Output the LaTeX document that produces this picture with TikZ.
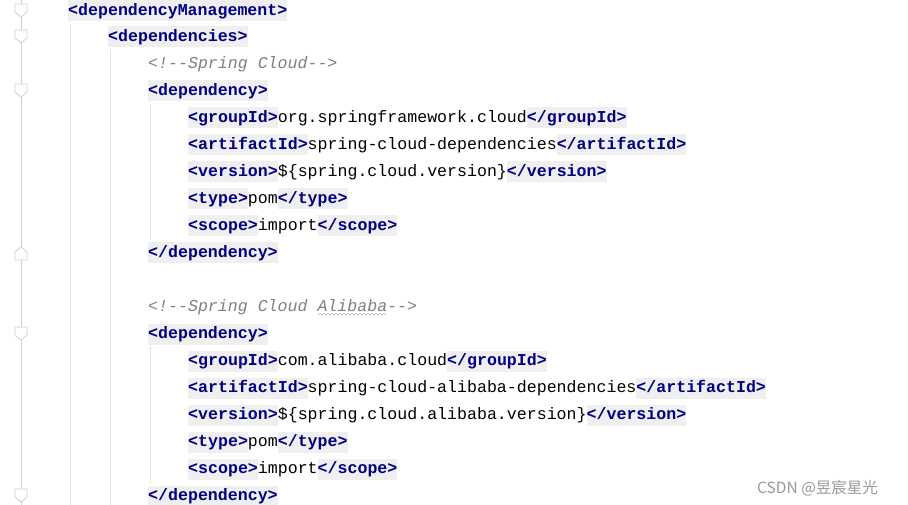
\documentclass[tikz,border=0pt]{standalone}
\usepackage{fontspec}
\setmonofont{Liberation Mono}
\newfontfamily\cjk{Noto Sans CJK SC}
\definecolor{tagc}{HTML}{000080}
\definecolor{tagbg}{HTML}{EFEFEF}
\definecolor{cmt}{HTML}{808080}
\definecolor{gut}{HTML}{D0D0D0}
\newcommand\tg[1]{{\setlength\fboxsep{0pt}\colorbox{tagbg}{\rule[-6pt]{0pt}{21pt}\bfseries\color{tagc}#1}}}
\newcommand\cm[1]{{\color{cmt}\itshape #1}}
\begin{document}
\begin{tikzpicture}[x=1pt,y=-1pt,
  code/.style={anchor=west,inner sep=0pt,font=\ttfamily\fontsize{16.6}{20}\selectfont},
  fold/.style={draw=gut,fill=white,line width=0.8pt}]
\useasboundingbox (0,0) rectangle (908,505);
\fill[white] (0,0) rectangle (908,505);
% gutter
\draw[gut,line width=0.8pt] (21,0) -- (21,505);
\foreach \y in {11,37,91,334,496}{
  \draw[fold] (15,\y-7) -- (27,\y-7) -- (27,\y+1) -- (21,\y+6) -- (15,\y+1) -- cycle;}
\foreach \y in {253}{
  \draw[fold] (15,\y+7) -- (27,\y+7) -- (27,\y-1) -- (21,\y-6) -- (15,\y-1) -- cycle;}
% indent guides
\draw[gut!60,line width=0.6pt] (70,24) -- (70,505);
\draw[gut!60,line width=0.6pt] (110,50) -- (110,505);
\draw[gut!60,line width=0.6pt] (150,104) -- (150,240);
\draw[gut!60,line width=0.6pt] (150,347) -- (150,483);
% code
\node[code] (l1) at (68,11) {\tg{<dependencyManagement>}};
\node[code] (l2) at (108,37) {\tg{<dependencies>}};
\node[code] (l3) at (148,64) {\cm{<!--Spring Cloud-->}};
\node[code] (l4) at (148,91) {\tg{<dependency>}};
\node[code] (l5) at (188,118) {\tg{<groupId>}org.springframework.cloud\tg{</groupId>}};
\node[code] (l6) at (188,145) {\tg{<artifactId>}spring-cloud-dependencies\tg{</artifactId>}};
\node[code] (l7) at (188,172) {\tg{<version>}\$\{spring.cloud.version\}\tg{</version>}};
\node[code] (l8) at (188,199) {\tg{<type>}pom\tg{</type>}};
\node[code] (l9) at (188,226) {\tg{<scope>}import\tg{</scope>}};
\node[code] (l10) at (148,253) {\tg{</dependency>}};
\node[code] (l12) at (148,307) {\cm{<!--Spring Cloud Alibaba-->}};
\draw[cmt!70,line width=0.5pt] (318,315) foreach \i in {1,...,17}{ -- ++(2,-1.5) -- ++(2,1.5)};
\node[code] (l13) at (148,334) {\tg{<dependency>}};
\node[code] (l14) at (188,361) {\tg{<groupId>}com.alibaba.cloud\tg{</groupId>}};
\node[code] (l15) at (188,388) {\tg{<artifactId>}spring-cloud-alibaba-dependencies\tg{</artifactId>}};
\node[code] (l16) at (188,415) {\tg{<version>}\$\{spring.cloud.alibaba.version\}\tg{</version>}};
\node[code] (l17) at (188,442) {\tg{<type>}pom\tg{</type>}};
\node[code] (l18) at (188,469) {\tg{<scope>}import\tg{</scope>}};
\node[code] (l19) at (148,496) {\tg{</dependency>}};
\node[anchor=west,inner sep=0pt,text=cmt!80,font=\cjk\fontsize{15.5}{18}\selectfont] (wm) at (757,488) {CSDN @昱宸星光};
\end{tikzpicture}
\end{document}
